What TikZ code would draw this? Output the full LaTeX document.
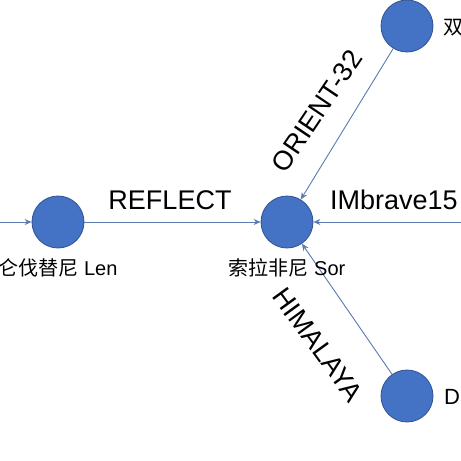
\documentclass[tikz,border=0pt]{standalone}
\usepackage{fontspec}
\setmainfont{Liberation Sans}
\newfontfamily\cjk{Noto Sans CJK SC}
\usetikzlibrary{arrows.meta}
\definecolor{nodefill}{HTML}{4472C4}
\definecolor{nodeedge}{HTML}{2F528F}
\definecolor{linec}{HTML}{5B7BB0}
\tikzset{
  drug/.style={circle, fill=nodefill, draw=nodeedge, line width=0.8pt, minimum size=52pt, inner sep=0pt},
  conn/.style={draw=linec, line width=0.9pt, -{Stealth[length=7pt,width=6pt]}},
  trial/.style={font=\fontsize{27}{29}\selectfont, inner sep=0pt},
  dlabel/.style={font=\fontsize{20}{22}\selectfont, inner sep=0pt}
}
\begin{document}
\begin{tikzpicture}[x=1pt,y=-1pt]
\useasboundingbox (0,0) rectangle (461,461);
\clip (0,0) rectangle (461,461);
\fill[white] (0,0) rectangle (461,461);
\node[drug] (len) at (58,222) {};
\node[drug] (sor) at (287,222) {};
\node[drug] (dsb) at (407,26) {};
\node[drug] (dd) at (407,396) {};
\coordinate (lin) at (-10,222);
\coordinate (rin) at (475,222);
\draw[conn] (lin) -- (len);
\draw[conn] (len) -- (sor);
\draw[conn] (rin) -- (sor);
\draw[conn] (dsb) -- (sor);
\draw[conn] (dd) -- (sor);
\node[dlabel] (lenl) at (58,268) {{\cjk 仑伐替尼} Len};
\node[dlabel] (sorl) at (287,268) {{\cjk 索拉非尼} Sor};
\node[dlabel, anchor=west] (dsbl) at (443,28) {\cjk 双};
\node[dlabel, anchor=west, font=\fontsize{22}{24}\selectfont] (ddl) at (444,397) {D};
\node[trial] (refl) at (170,200) {REFLECT};
\node[trial, anchor=west] (imb) at (330,200) {IMbrave15};
\node[trial, rotate=56] (ori) at (317,111) {ORIENT-32};
\node[trial, rotate=-54] (him) at (318,345) {HIMALAYA};
\end{tikzpicture}
\end{document}
